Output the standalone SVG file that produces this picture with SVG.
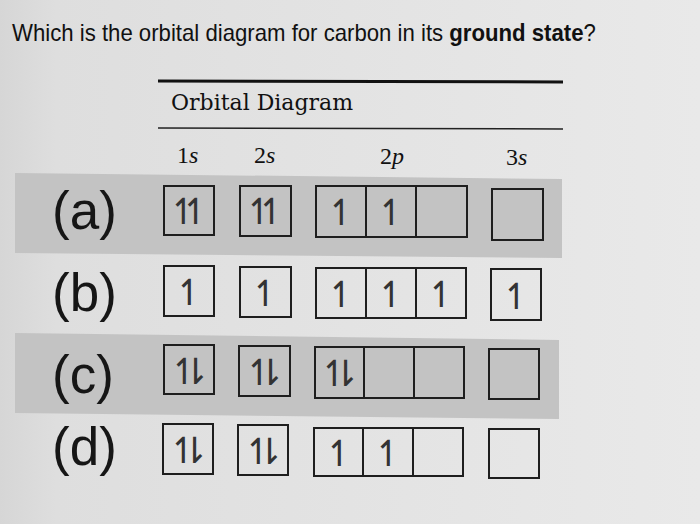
<svg xmlns="http://www.w3.org/2000/svg" width="700" height="524" viewBox="0 0 700 524">
<defs>
<linearGradient id="bg" x1="0" y1="0" x2="1" y2="0">
<stop offset="0" stop-color="#d6d6d6"/>
<stop offset="0.08" stop-color="#dedede"/>
<stop offset="1" stop-color="#e9e9e9"/>
</linearGradient>
<style>
.title{font-family:"Liberation Sans",Arial,sans-serif;font-size:24px;fill:#111}
.serif{font-family:"DejaVu Serif","Liberation Serif",serif;fill:#111}
.hd{font-family:"Liberation Serif","Times New Roman",serif;font-size:24px;fill:#111}
.lbl{font-family:"Liberation Sans",Arial,sans-serif;font-size:53px;fill:#161616}
.box{fill:none;stroke:#1e1e1e;stroke-width:2}
.sp{font-family:"DejaVu Sans",sans-serif;font-size:36px;fill:#333;text-anchor:middle}
.pr{font-family:"DejaVu Sans",sans-serif;font-size:36px;fill:#333;letter-spacing:-18px}
.pd{font-family:"DejaVu Sans",sans-serif;font-size:36px;fill:#333;letter-spacing:-19px}
.band{fill:#c3c3c3}
</style>
</defs>
<rect width="700" height="524" fill="url(#bg)"/>
<text class="title" transform="translate(12,41) scale(0.924,1)">Which is the orbital diagram for carbon in its <tspan font-weight="bold">ground state</tspan>?</text>
<g id="table-header">
<line x1="158" y1="81" x2="563" y2="82" stroke="#111" stroke-width="3"/>
<text class="serif" x="171" y="110" font-size="22">Orbital Diagram</text>
<line x1="158" y1="128" x2="563" y2="129" stroke="#222" stroke-width="1.5"/>
<text class="hd" x="177" y="163">1<tspan font-style="italic">s</tspan></text>
<text class="hd" x="254" y="163">2<tspan font-style="italic">s</tspan></text>
<text class="hd" x="380" y="164">2<tspan font-style="italic">p</tspan></text>
<text class="hd" x="506" y="165">3<tspan font-style="italic">s</tspan></text>
</g>
<g id="bands">
<polygon class="band" points="15,173 562,179 562,258 15,253"/>
<polygon class="band" points="15,333 559,340 559,419 15,413"/>
</g>
<g id="row-a">
<text class="lbl" x="52" y="229">(a)</text>
<rect class="box" x="164" y="186" width="50" height="49"/>
<text class="pr" x="168" y="224">↿↿</text>
<rect class="box" x="240" y="186" width="51" height="50"/>
<text class="pr" x="244" y="224">↿↿</text>
<rect class="box" x="316" y="186" width="151" height="51"/>
<line class="box" x1="366" y1="186" x2="366" y2="237"/>
<line class="box" x1="416" y1="186" x2="416" y2="237"/>
<text class="sp" x="341" y="225">↿</text>
<text class="sp" x="391" y="225">↿</text>
<rect class="box" x="492" y="189" width="51" height="51"/>
</g>
<g id="row-b">
<text class="lbl" x="52" y="311">(b)</text>
<rect class="box" x="164" y="266" width="50" height="50"/>
<text class="sp" x="189" y="305">↿</text>
<rect class="box" x="240" y="267" width="51" height="50"/>
<text class="sp" x="265" y="306">↿</text>
<rect class="box" x="316" y="268" width="150" height="50"/>
<line class="box" x1="366" y1="268" x2="366" y2="318"/>
<line class="box" x1="416" y1="268" x2="416" y2="318"/>
<text class="sp" x="341" y="307">↿</text>
<text class="sp" x="391" y="307">↿</text>
<text class="sp" x="441" y="307">↿</text>
<rect class="box" x="491" y="269" width="50" height="51"/>
<text class="sp" x="516" y="309">↿</text>
</g>
<g id="row-c">
<text class="lbl" x="52" y="393">(c)</text>
<rect class="box" x="164" y="345" width="50" height="49"/>
<text class="pd" x="169" y="384">↿⇂</text>
<rect class="box" x="239" y="346" width="51" height="50"/>
<text class="pd" x="244" y="385">↿⇂</text>
<rect class="box" x="315" y="347" width="149" height="51"/>
<line class="box" x1="364" y1="347" x2="364" y2="398"/>
<line class="box" x1="414" y1="347" x2="414" y2="398"/>
<text class="pd" x="319" y="386">↿⇂</text>
<rect class="box" x="489" y="349" width="50" height="50"/>
</g>
<g id="row-d">
<text class="lbl" x="52" y="465">(d)</text>
<rect class="box" x="163" y="424" width="50" height="50"/>
<text class="pd" x="168" y="463">↿⇂</text>
<rect class="box" x="238" y="425" width="50" height="50"/>
<text class="pd" x="243" y="464">↿⇂</text>
<rect class="box" x="314" y="428" width="149" height="48"/>
<line class="box" x1="363" y1="428" x2="363" y2="476"/>
<line class="box" x1="413" y1="428" x2="413" y2="476"/>
<text class="sp" x="339" y="466">↿</text>
<text class="sp" x="388" y="466">↿</text>
<rect class="box" x="489" y="429" width="50" height="49"/>
</g>
</svg>
